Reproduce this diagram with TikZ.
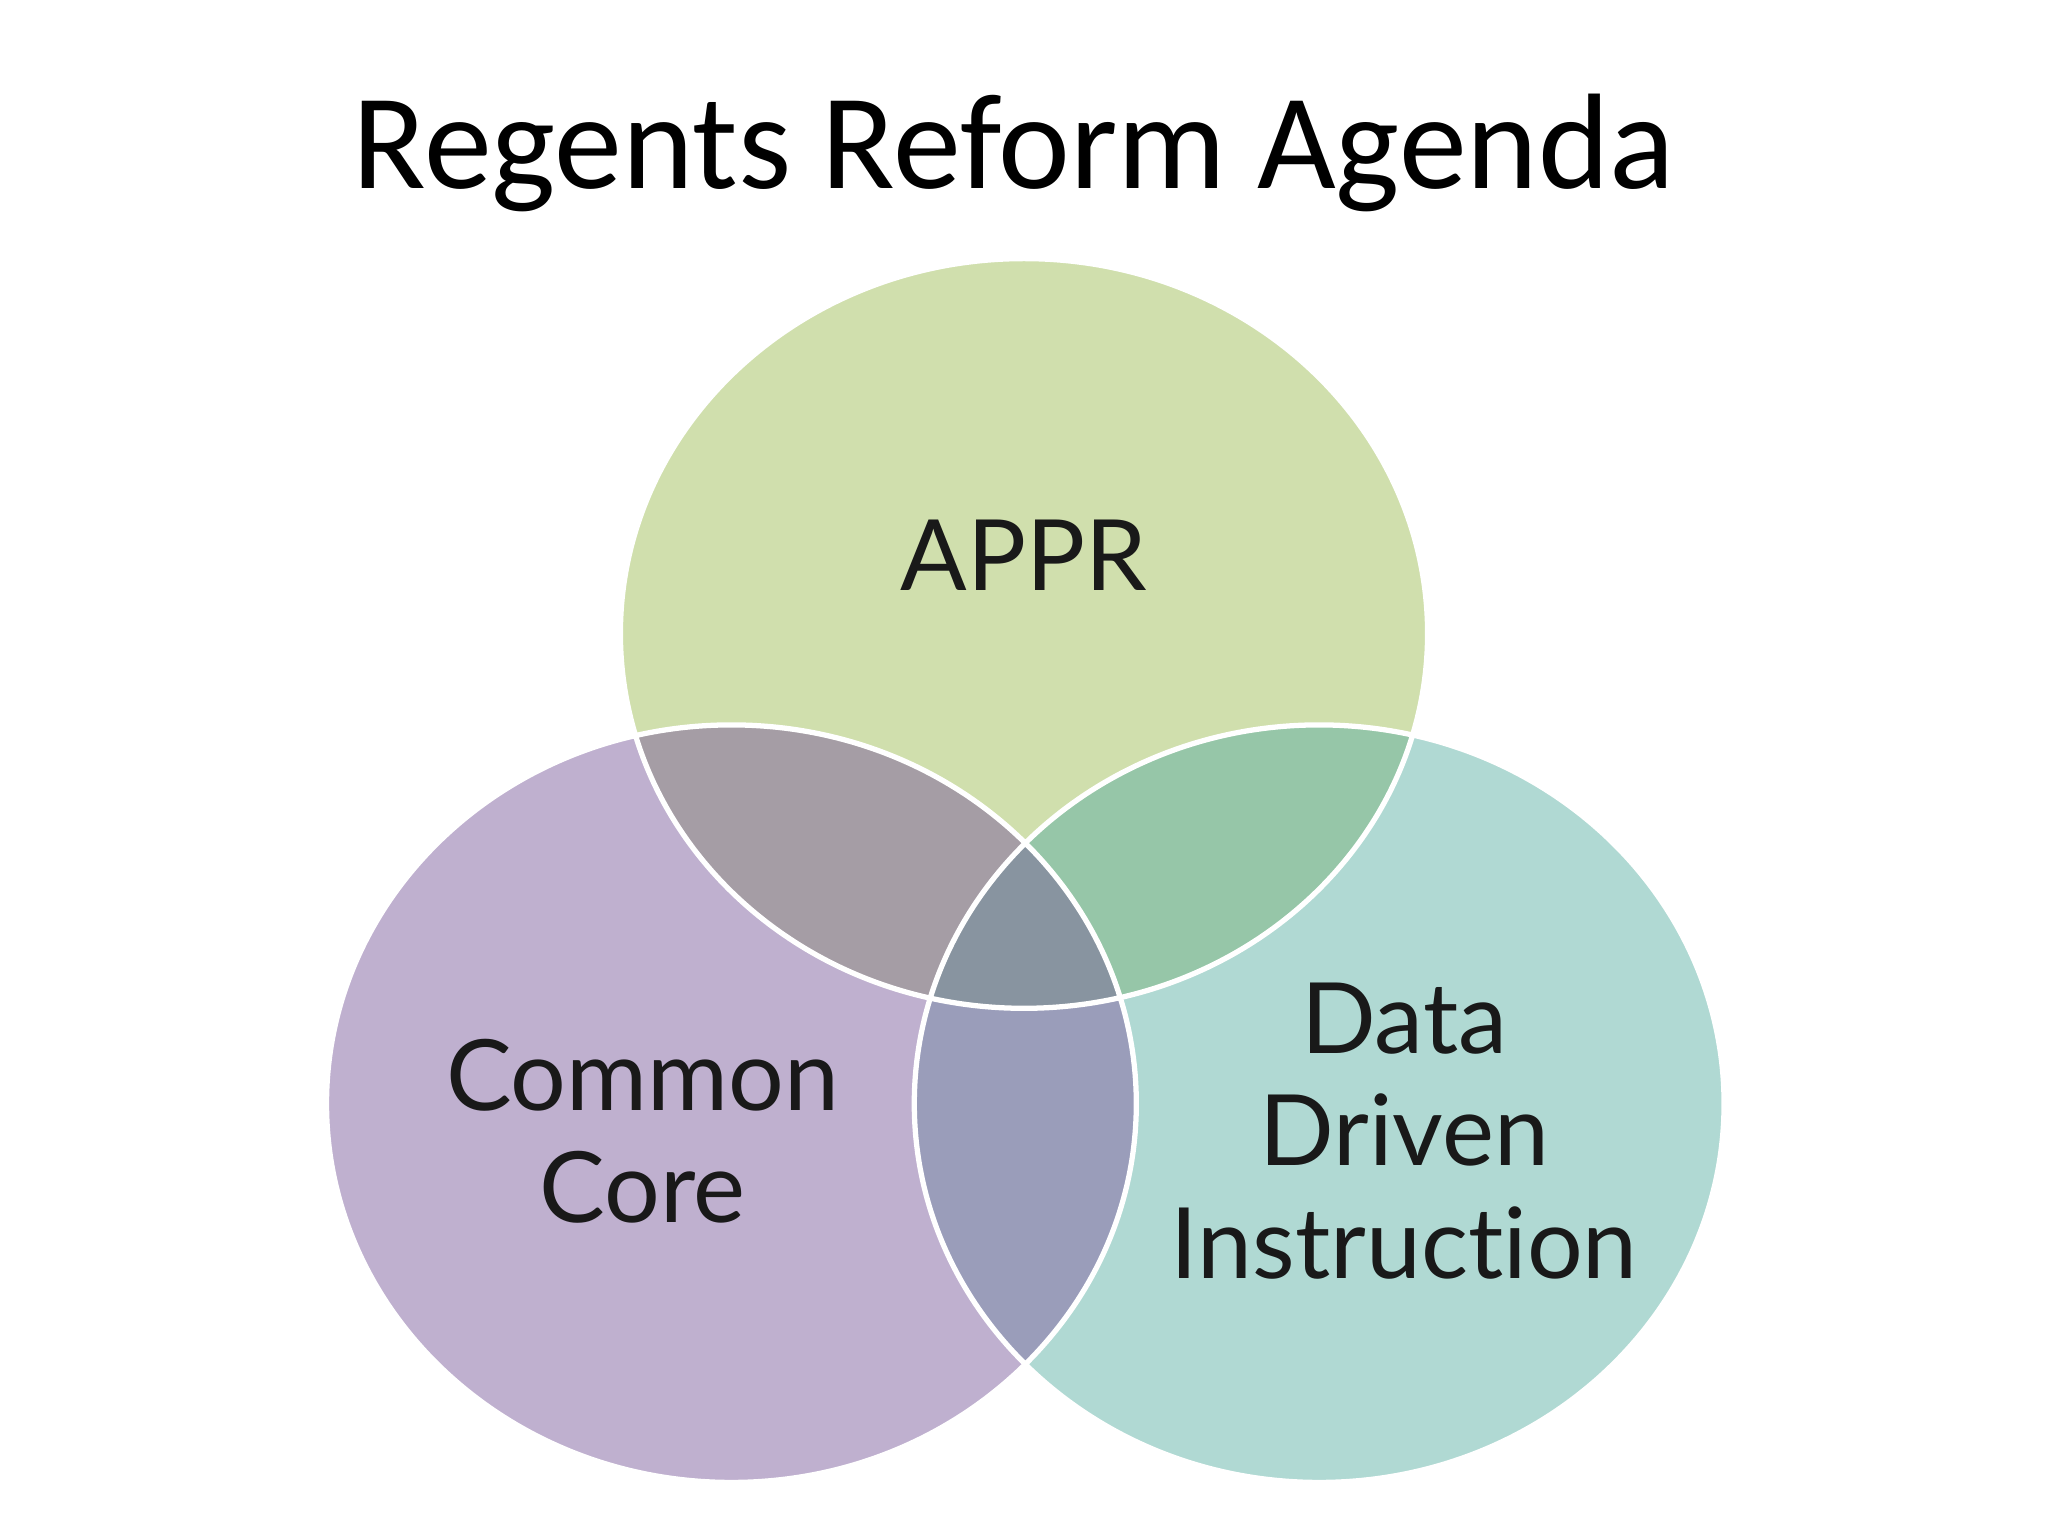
\documentclass[tikz,border=0pt]{standalone}
\usepackage{fontspec}
\setmainfont{Carlito}
\newfontfamily\lab[RawFeature={-liga;-dlig},Ligatures=NoCommon]{Lato}
\definecolor{cg}{HTML}{D0DFAD}
\definecolor{cp}{HTML}{BFB0CF}
\definecolor{ct}{HTML}{B0D9D3}
\definecolor{cgp}{HTML}{A59DA5}
\definecolor{cgt}{HTML}{96C6A8}
\definecolor{cpt}{HTML}{9A9DBA}
\definecolor{call}{HTML}{8894A0}
\begin{document}
\begin{tikzpicture}[x=0.01306cm,y=-0.01306cm,
  lbl/.style={font=\lab\fontsize{28}{32}\selectfont,align=center,text=black!90}]
\useasboundingbox (0,0) rectangle (1568,1176);
\fill[white] (0,0) rectangle (1568,1176);
\def\T{(784,485) ellipse [x radius=309,y radius=287]}
\def\L{(560,845) ellipse [x radius=310,y radius=290]}
\def\R{(1010,845) ellipse [x radius=310,y radius=290]}
\fill[cg] \T; \fill[cp] \L; \fill[ct] \R;
\begin{scope}\clip \T; \fill[cgp] \L; \fill[cgt] \R; \end{scope}
\begin{scope}\clip \L; \fill[cpt] \R; \end{scope}
\begin{scope}\clip \T; \clip \L; \fill[call] \R; \end{scope}
\draw[white,line width=1.5pt] \T \L \R;
\node (title) at (776,117) {\fontsize{38.7}{46}\selectfont Regents Reform Agenda};
\node[lbl] (a) at (784,425) {APPR};
\node[lbl] (c) at (492,866) {Common\\Core};
\node[lbl] (d) at (1075,866) {Data\\Driven\\Instruction};
\end{tikzpicture}
\end{document}
